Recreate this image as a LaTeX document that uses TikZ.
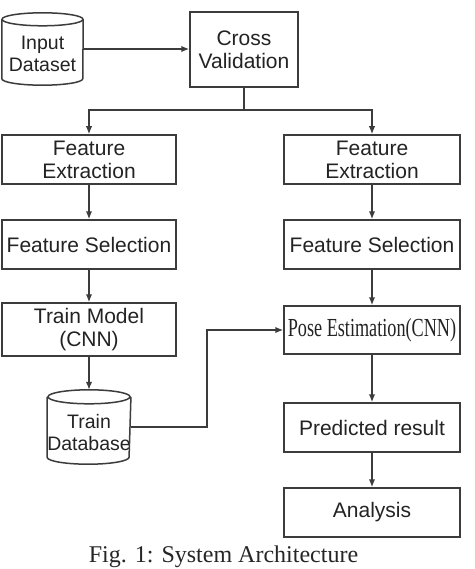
\documentclass[tikz,border=0pt]{standalone}
\usepackage{fontspec}
\setmainfont{Liberation Serif}
\setsansfont{Liberation Sans}
\usetikzlibrary{arrows.meta}
\definecolor{ln}{RGB}{60,60,60}
\definecolor{tx}{RGB}{35,35,35}
\begin{document}
\begin{tikzpicture}[x=1pt,y=-1pt,
  box/.style={draw=ln, line width=1.5pt, text=tx, font=\sffamily\fontsize{21}{23}\selectfont,
    align=center, inner sep=0pt, minimum width=174pt, minimum height=49pt},
  cylnode/.style={text=tx, font=\sffamily\fontsize{19.5}{22}\selectfont, inner sep=0pt},
  cylline/.style={draw=ln, line width=1.5pt},
  arr/.style={draw=ln, line width=1.5pt, -{Latex[length=8pt,width=6.5pt]}},
  plain/.style={draw=ln, line width=1.5pt}]
\useasboundingbox (0,0) rectangle (474,569);
\fill[white] (0,0) rectangle (474,569);

% nodes
\node[cylnode, minimum width=81pt, minimum height=72pt] (in) at (42.5,49)
  {\raisebox{-12pt}[0pt][0pt]{\begin{tabular}{@{}c@{}}Input\\Dataset\end{tabular}}};
\node[box, minimum width=108pt, minimum height=75pt] (cv) at (244,49.5) {Cross\\Validation};
\node[box] (fe1) at (89,159.5) {Feature\\Extraction};
\node[box, minimum width=176pt] (fe2) at (372,159.5) {Feature\\Extraction};
\node[box] (fs1) at (89,244.5) {Feature Selection};
\node[box, minimum width=176pt] (fs2) at (372,244.5) {Feature Selection};
\node[box, minimum height=53pt] (tm) at (89,329.5) {Train Model\\(CNN)};
\node[box, minimum width=176pt, minimum height=48pt] (pe) at (372,330)
  {\rmfamily\fontsize{26}{26}\selectfont\scalebox{0.7}[1]{Pose Estimation(CNN)}};
\node[cylnode, minimum width=82pt, minimum height=74pt] (td) at (89,427)
  {\raisebox{-13.5pt}[0pt][0pt]{\begin{tabular}{@{}c@{}}Train\\Database\end{tabular}}};
\node[box, minimum width=176pt] (pr) at (372,427.5) {Predicted result};
\node[box, minimum width=176pt] (an) at (372,512.5) {Analysis};
\node[anchor=base, text=black!85, font=\rmfamily\fontsize{24}{26}\selectfont, inner sep=0pt] (cap)
  at (223.5,562.5) {Fig. 1: System Architecture};

% cylinders
\draw[cylline] ([yshift=-6.5pt]in.north) ellipse [x radius=40.5, y radius=6.5];
\draw[cylline] ([yshift=-6.5pt]in.north west) -- ([yshift=6.5pt]in.south west)
  arc[start angle=180, delta angle=-180, x radius=40.5, y radius=6.5] -- ([yshift=-6.5pt]in.north east);
\draw[cylline] ([yshift=-7pt]td.north) ellipse [x radius=41, y radius=7];
\draw[cylline] ([yshift=-7pt]td.north west) -- ([yshift=7pt]td.south west)
  arc[start angle=180, delta angle=-180, x radius=41, y radius=7] -- ([yshift=-7pt]td.north east);

% connectors
\coordinate (split) at (cv.south |- 0,110);
\draw[arr] (in.east) -- (in.east -| cv.west);
\draw[plain] (cv.south) -- (split);
\draw[arr] (split) -| (fe1.north);
\draw[arr] (split) -| (fe2.north);
\draw[arr] (fe1) -- (fs1);
\draw[arr] (fs1) -- (tm);
\draw[arr] (tm) -- (td.north);
\draw[arr] (fe2) -- (fs2);
\draw[arr] (fs2) -- (pe);
\draw[arr] (pe) -- (pr);
\draw[arr] (pr) -- (an);
\coordinate (bend) at (207,427);
\draw[arr] (td.east) -- (bend) |- (pe.west);
\end{tikzpicture}
\end{document}
